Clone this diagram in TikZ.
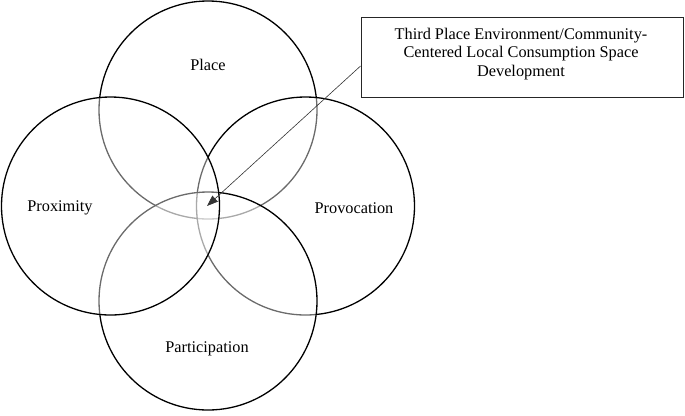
\documentclass[tikz,border=0pt]{standalone}
\usepackage{fontspec}
\setmainfont{Liberation Serif}
\usetikzlibrary{arrows.meta}
\begin{document}
\begin{tikzpicture}[x=1bp,y=-1bp,
  ring/.style={draw=black, line width=1.3bp, fill=white, fill opacity=0.42, circle, minimum size=218bp, inner sep=0pt},
  lbl/.style={font=\fontsize{16.3bp}{18.5bp}\selectfont, text=black, inner sep=0pt},
  callout/.style={draw=black!85, line width=0.9bp, minimum width=322bp, minimum height=80bp, inner sep=0pt},
  callouttext/.style={align=center, font=\fontsize{16.3bp}{18.5bp}\selectfont, inner sep=0pt},
  pointer/.style={draw=black!80, line width=0.6bp, -{Triangle[length=11bp,width=8bp]}}
]
\useasboundingbox (0,0) rectangle (685,415);
% circles, bottom to top
\node[ring] (place) at (208,110) {};
\node[ring] (provocation) at (305.5,206) {};
\node[ring] (participation) at (208,301) {};
\node[ring] (proximity) at (110.5,206) {};
% labels
\node[lbl] (placeT) at (208,65) {Place};
\node[lbl] (proxT) at (60,208) {Proximity};
\node[lbl] (provT) at (354,208) {Provocation};
\node[lbl] (partT) at (207,349) {Participation};
% callout box
\node[callout] (box) at (522,57) {};
\node[callouttext] (boxtext) at (521,54) {Third Place Environment/Community-\\Centered Local Consumption Space\\Development};
\coordinate (tip) at (207,206);
\draw[pointer] ([yshift=-9bp]box.west) -- (tip);
\end{tikzpicture}
\end{document}
